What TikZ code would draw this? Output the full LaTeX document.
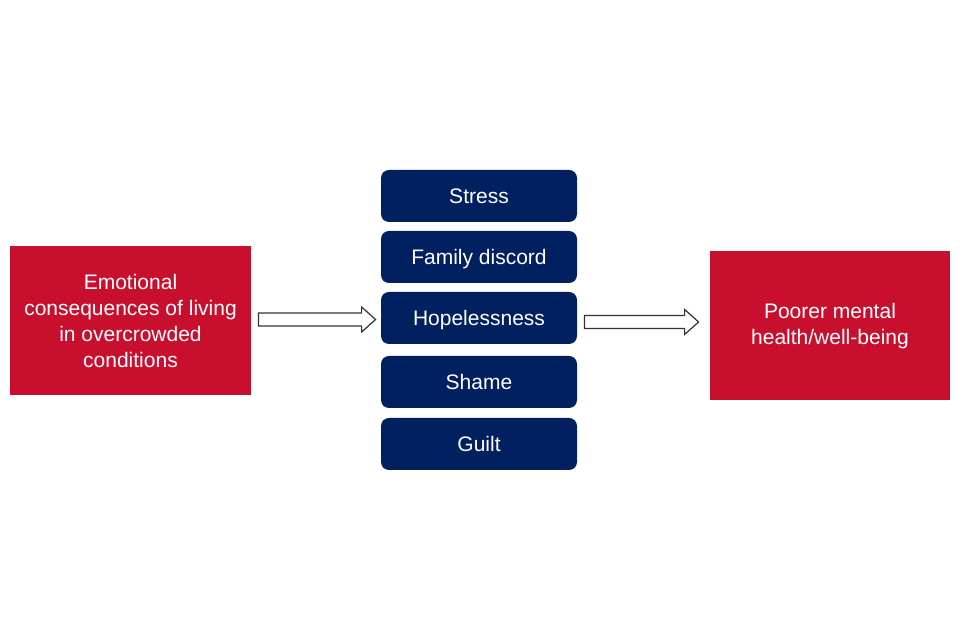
\documentclass[tikz,border=0pt]{standalone}
\usepackage{fontspec}
\setmainfont{Liberation Sans}
\usetikzlibrary{calc}
\definecolor{boxred}{RGB}{200,16,46}
\definecolor{boxnavy}{RGB}{0,32,96}

% hollow block arrow from one node to the next (#3 = gap before the target)
\newcommand{\blockarrow}[3]{%
  \draw[hollow] let \p1=($(#1.east)+(7,0)$), \p2=($(#2.west)+(-#3,0)$), \n1={(\y1+\y2)/2} in
    (\x1,{\n1+3.25pt}) -- ({\x2-7pt},{\n1+3.25pt}) -- ({\x2-7pt},{\n1+6.25pt}) -- (\x2,\n1)
    -- ({\x2-7pt},{\n1-6.25pt}) -- ({\x2-7pt},{\n1-3.25pt}) -- (\x1,{\n1-3.25pt}) -- cycle;}

\begin{document}
\begin{tikzpicture}[
    x=0.5pt, y=-0.5pt,
    outcome/.style={rectangle, fill=boxred, text=white, minimum width=120.5pt, minimum height=74.5pt, inner sep=0pt, align=center, font=\fontsize{10.5}{12.9}\selectfont},
    feeling/.style={rectangle, rounded corners=4pt, fill=boxnavy, text=white, minimum width=98pt, minimum height=26pt, inner sep=0pt, text height=7.6pt, text depth=0.3pt, font=\fontsize{10.5}{12.9}\selectfont},
    hollow/.style={draw=black!80, fill=white, line width=0.6pt}
]
    \useasboundingbox (0,0) rectangle (960,640);

    % Cause
    \node[outcome] (cause) at (130.5,321) {Emotional\\consequences of living\\in overcrowded\\conditions};

    % Emotions
    \node[feeling] (stress) at (479,196) {Stress};
    \node[feeling] (discord) at (479,257) {Family discord};
    \node[feeling] (hope) at (479,318) {Hopelessness};
    \node[feeling] (shame) at (479,382) {Shame};
    \node[feeling] (guilt) at (479,444) {Guilt};

    % Outcome
    \node[outcome, minimum width=120pt] (health) at (830,326) {Poorer mental\\health/well-being};

    % Arrows
    \blockarrow{cause}{hope}{5}
    \blockarrow{hope}{health}{11}
\end{tikzpicture}
\end{document}
